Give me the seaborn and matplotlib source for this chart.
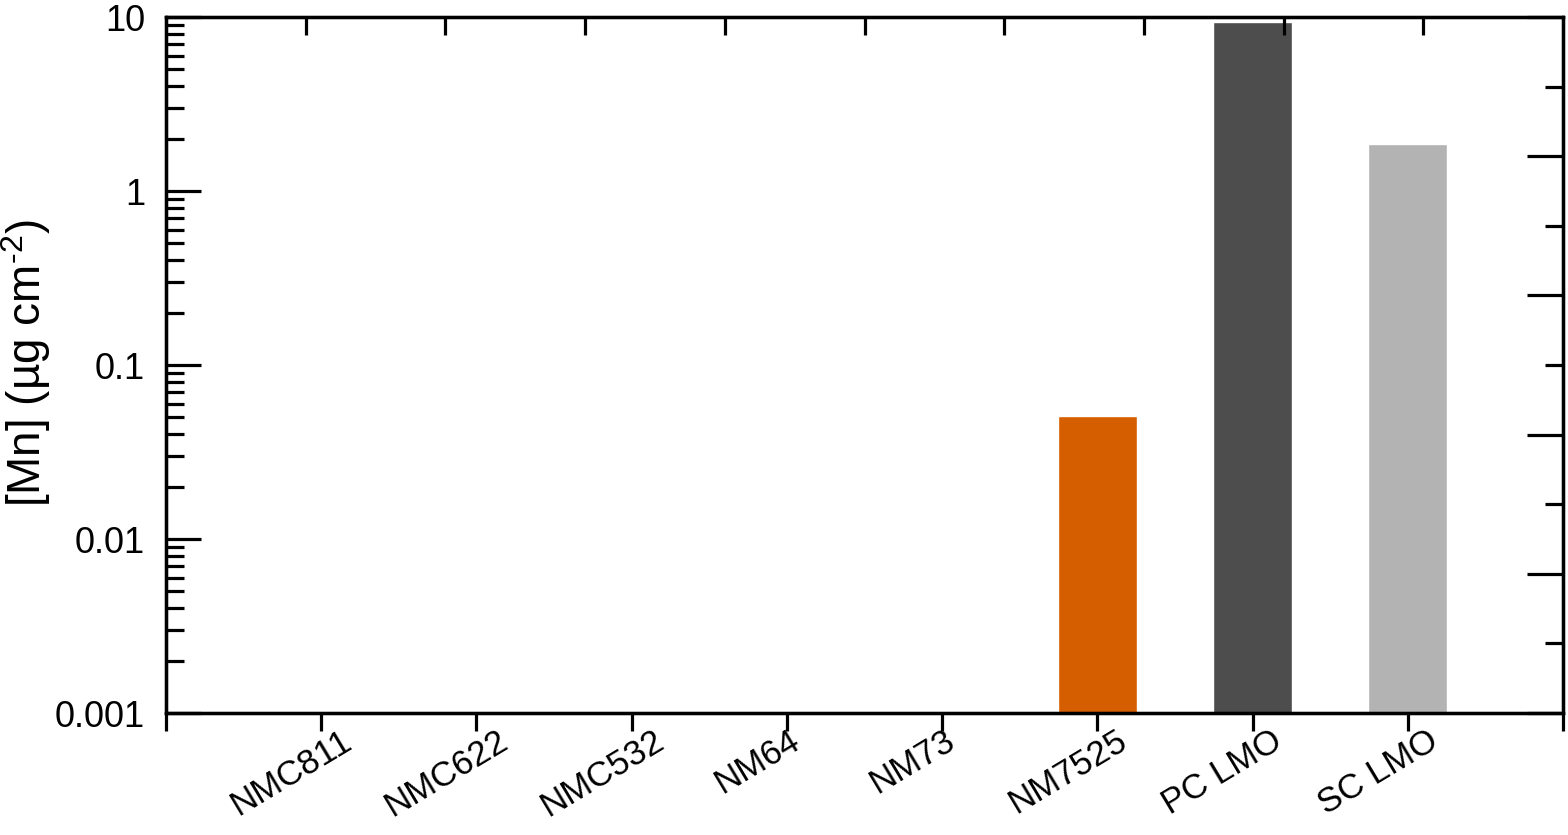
import numpy as np
import pandas as pd
import seaborn as sns
import matplotlib.pyplot as plt
from matplotlib.ticker import LogLocator, NullFormatter, FixedLocator
from matplotlib.transforms import ScaledTranslation

# Mn deposited on the anode, per cathode material (blank = not detected)
materials = ["NMC811", "NMC622", "NMC532", "NM64", "NM73", "NM7525", "PC LMO", "SC LMO"]
mn_conc = [np.nan, np.nan, np.nan, np.nan, np.nan, 0.051, 9.4, 1.86]
bar_colors = ["#D55E00", "#D55E00", "#D55E00", "#D55E00", "#D55E00", "#D55E00", "#4D4D4D", "#B3B3B3"]
y_ticks = [0.001, 0.01, 0.1, 1, 10]
y_ticklabels = ["0.001", "0.01", "0.1", "1", "10"]

df = pd.DataFrame({"material": materials, "mn": mn_conc})

sns.set_style("white")
plt.rcParams["font.family"] = ["Liberation Sans", "DejaVu Sans"]
plt.rcParams["mathtext.fontset"] = "custom"
plt.rcParams["mathtext.rm"] = "Liberation Sans"
plt.rcParams["mathtext.it"] = "Liberation Sans:italic"
plt.rcParams["text.color"] = "black"
plt.rcParams["axes.labelcolor"] = "black"
plt.rcParams["xtick.color"] = "black"
plt.rcParams["ytick.color"] = "black"

fig = plt.figure(figsize=(15.68, 8.35), dpi=100)
ax = fig.add_axes([0.1059, 0.1461, 0.8909, 0.8335])
ax.set_yscale("log")

sns.barplot(
    data=df, x="material", y="mn", hue="material", order=materials,
    palette=dict(zip(materials, bar_colors)), width=0.51, legend=False,
    saturation=1, ax=ax
)

ax.set_xlim(-1, 8)
ax.set_ylim(0.001, 10)

lw = 2.3
for s in ax.spines.values():
    s.set_linewidth(lw)
    s.set_color("black")

# left axis: log ticks pointing inward
ax.yaxis.set_major_locator(FixedLocator(y_ticks))
ax.set_yticklabels(y_ticklabels)
ax.yaxis.set_minor_locator(LogLocator(base=10, subs=np.arange(2, 10)))
ax.yaxis.set_minor_formatter(NullFormatter())
ax.tick_params(axis="y", which="major", direction="in", length=25, width=lw,
               labelsize=26, pad=15, left=True)
ax.tick_params(axis="y", which="minor", direction="in", length=13, width=lw, left=True)

# bottom axis: outward ticks, labels only on the categories
ax.set_xticks(range(-1, 9))
ax.set_xticklabels([""] + materials + [""], rotation=31, ha="center")
ax.tick_params(axis="x", which="major", direction="out", length=13, width=lw,
               labelsize=25, pad=-5, bottom=True)
for lab in ax.get_xticklabels():
    lab.set_transform(lab.get_transform() + ScaledTranslation(-30 / 100, 0, fig.dpi_scale_trans))

ax.set_xlabel("")
ax.set_ylabel("[Mn] (\u00b5g cm$^{\\text{-}2}$)", fontsize=33)
ax.yaxis.set_label_coords(-0.081, 0.503)

# top axis: plain inward ticks
axt = ax.twiny()
axt.set_xlim(0, 10)
axt.set_xticks(range(1, 10))
axt.set_xticklabels([])
axt.tick_params(axis="x", direction="in", length=13, width=lw, top=True)

# right axis: alternating long/short inward ticks
axr = ax.twinx()
axr.set_ylim(0, 10)
axr.set_yticks([0, 2, 4, 6, 8, 10])
axr.set_yticks([1, 3, 5, 7, 9], minor=True)
axr.set_yticklabels([])
axr.tick_params(axis="y", which="major", direction="in", length=26, width=lw, right=True)
axr.tick_params(axis="y", which="minor", direction="in", length=13, width=lw, right=True)
for a in (axt, axr):
    for s in a.spines.values():
        s.set_linewidth(lw)
        s.set_color("black")

fig.savefig("out.png", dpi=100)
